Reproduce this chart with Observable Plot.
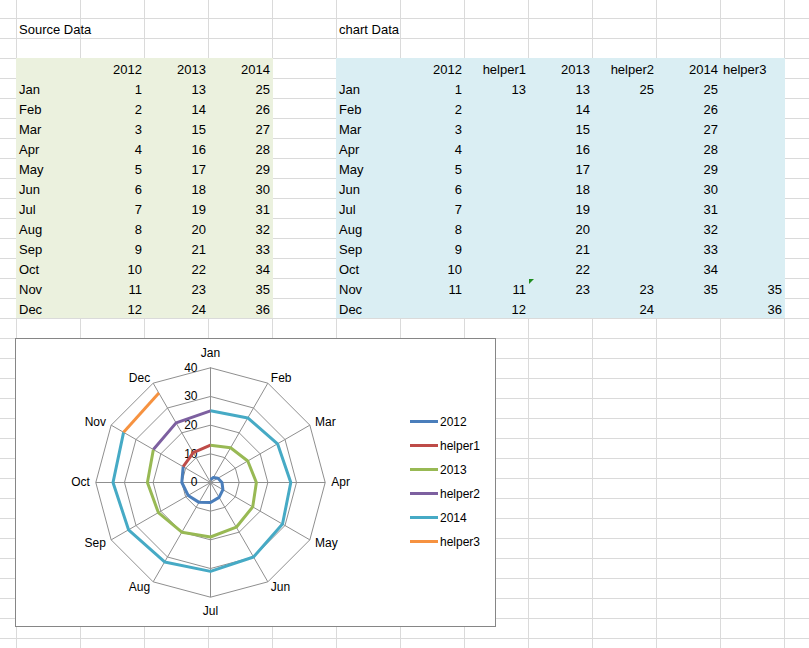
<!DOCTYPE html>
<html>
<head>
<meta charset="utf-8">
<script src="https://cdn.jsdelivr.net/npm/d3@7"></script>
<script src="https://cdn.jsdelivr.net/npm/@observablehq/plot@0.6"></script>
<style>
  html, body { margin: 0; padding: 0; background: #fff; }
  #sheet { position: relative; width: 809px; height: 648px; overflow: hidden;
    font-family: "Liberation Sans", Arial, sans-serif; font-size: 13px; color: #000; }
  .gh { position: absolute; left: 0; width: 809px; height: 1px; background: #dadada; }
  .gv { position: absolute; top: 0; height: 648px; width: 1px; background: #dadada; }
  .fill { position: absolute; }
  .cell { position: absolute; height: 20px; line-height: 20px; width: 64px;
    white-space: nowrap; box-sizing: border-box; }
  .l { text-align: left; padding-left: 3px; }
  .r { text-align: right; padding-right: 2px; }
  .tri { position: absolute; width: 0; height: 0; border-top: 5px solid #1e8c1e; border-right: 5px solid transparent; }
  #chart { position: absolute; left: 15px; top: 338px; width: 481px; height: 289px;
    box-sizing: border-box; border: 1px solid #868686; background: #fff; }
  #chart svg { position: absolute; left: 0; top: 0; }
  .lg-line { position: absolute; width: 28px; height: 3px; }
  .lg-text { position: absolute; height: 20px; line-height: 20px; font-size: 12px; white-space: nowrap; }
</style>
</head>
<body>
<div id="sheet"></div>
<script>
// ---------- data ----------
const months = ["Jan","Feb","Mar","Apr","May","Jun","Jul","Aug","Sep","Oct","Nov","Dec"];
const src2012 = [1,2,3,4,5,6,7,8,9,10,11,12];
const src2013 = [13,14,15,16,17,18,19,20,21,22,23,24];
const src2014 = [25,26,27,28,29,30,31,32,33,34,35,36];

const chart2012 = [1,2,3,4,5,6,7,8,9,10,11,null];
const helper1   = [13,null,null,null,null,null,null,null,null,null,11,12];
const chart2013 = [13,14,15,16,17,18,19,20,21,22,23,null];
const helper2   = [25,null,null,null,null,null,null,null,null,null,23,24];
const chart2014 = [25,26,27,28,29,30,31,32,33,34,35,null];
const helper3   = [null,null,null,null,null,null,null,null,null,null,35,36];

const sourceHeaders = ["2012","2013","2014"];
const chartHeaders = ["2012","helper1","2013","helper2","2014","helper3"];
const seriesNames = ["2012","helper1","2013","helper2","2014","helper3"];
const seriesValues = [chart2012, helper1, chart2013, helper2, chart2014, helper3];
const seriesColors = ["#4A7EBB","#BE4B48","#98B954","#7D60A0","#46AAC5","#F69240"];
const radialTicks = [0,10,20,30,40];

// ---------- spreadsheet ----------
const sheet = document.getElementById("sheet");
const colLeft = c => 16 + 64 * c;     // c=0 -> column B
const rowTop = r => 18 + 20 * r;      // r=0 -> title row
function el(cls, style, text) {
  const d = document.createElement("div");
  d.className = cls;
  Object.assign(d.style, style);
  if (text != null) d.textContent = text;
  sheet.appendChild(d);
  return d;
}
for (let k = 0; k < 32; k++) el("gh", {top: (18 + 20 * k) + "px"});
for (let k = 0; k < 13; k++) el("gv", {left: (16 + 64 * k) + "px"});
el("fill", {left: "16px", top: "58px", width: "257px", height: "260px", background: "#EBF1DE"});
el("fill", {left: "336px", top: "58px", width: "449px", height: "260px", background: "#DAEEF3"});

function cell(c, r, text, align) {
  if (text == null) return;
  el("cell " + align, {left: colLeft(c) + "px", top: (rowTop(r) + 2) + "px"}, String(text));
}
cell(0, 0, "Source Data", "l");
cell(5, 0, "chart Data", "l");
sourceHeaders.forEach((h, j) => cell(1 + j, 2, h, "r"));
chartHeaders.forEach((h, j) => cell(6 + j, 2, h, h === "helper3" ? "l" : "r"));
const srcCols = [src2012, src2013, src2014];
months.forEach((m, i) => {
  cell(0, 3 + i, m, "l");
  srcCols.forEach((col, j) => cell(1 + j, 3 + i, col[i], "r"));
  cell(5, 3 + i, m, "l");
  seriesValues.forEach((col, j) => cell(6 + j, 3 + i, col[i], "r"));
});
el("tri", {left: "529px", top: "279px"});

// ---------- radar chart ----------
const W = 479, H = 287, cx = 194, cy = 143;
const k = 114.7 / 40;                       // px per unit
const ang = i => i * Math.PI / 6;
const px = (i, r) => r * Math.sin(ang(i));
const py = (i, r) => r * Math.cos(ang(i));

const monthObjs = months.map((m, i) => ({m, i}));
const ringPts = radialTicks.filter(t => t > 0).flatMap(t =>
  [...monthObjs, {m: months[0], i: 12}].map(o => ({t, i: o.i})));
const seriesPts = seriesNames.flatMap((s, j) =>
  [...monthObjs, {m: months[0], i: 12}].map(o => ({s, i: o.i, v: seriesValues[j][o.i % 12]})));

const topBottom = monthObjs.filter(o => o.i === 0 || o.i === 6);
const rightSide = monthObjs.filter(o => o.i >= 1 && o.i <= 5);
const leftSide = monthObjs.filter(o => o.i >= 7);
const Rt = 40 + 14.3 / k, Rs = 40 + 6 / k;

const plot = Plot.plot({
  width: W, height: H, margin: 0,
  x: {domain: [-cx / k, (W - cx) / k], axis: null},
  y: {domain: [-(H - cy) / k, cy / k], axis: null},
  color: {domain: seriesNames, range: seriesColors},
  style: {fontFamily: "'Liberation Sans', Arial, sans-serif", fontSize: "12px", background: "transparent", color: "#000"},
  marks: [
    Plot.line(ringPts, {x: d => px(d.i, d.t), y: d => py(d.i, d.t), z: "t", stroke: "#8f8f8f", strokeWidth: 1}),
    Plot.link(monthObjs, {x1: 0, y1: 0, x2: d => px(d.i, 40), y2: d => py(d.i, 40), stroke: "#8f8f8f", strokeWidth: 1}),
    Plot.text(radialTicks, {x: 0, y: d => d, text: d => String(d), textAnchor: "end", dx: -13, fill: "#000"}),
    Plot.line(seriesPts, {
      x: d => d.v == null ? NaN : px(d.i, d.v),
      y: d => d.v == null ? NaN : py(d.i, d.v),
      z: "s", stroke: "s", strokeWidth: 3, strokeLinejoin: "round", strokeLinecap: "butt"
    }),
    Plot.text(topBottom, {x: d => px(d.i, Rt), y: d => py(d.i, Rt), text: "m", textAnchor: "middle", fill: "#000"}),
    Plot.text(rightSide, {x: d => px(d.i, Rs), y: d => py(d.i, Rs), text: "m", textAnchor: "start", fill: "#000"}),
    Plot.text(leftSide, {x: d => px(d.i, Rs), y: d => py(d.i, Rs), text: "m", textAnchor: "end", fill: "#000"})
  ]
});

const chart = document.createElement("div");
chart.id = "chart";
sheet.appendChild(chart);
chart.appendChild(plot);
seriesNames.forEach((s, j) => {
  const ln = document.createElement("div");
  ln.className = "lg-line";
  ln.style.left = "394px";
  ln.style.top = (81 + 24 * j) + "px";
  ln.style.background = seriesColors[j];
  chart.appendChild(ln);
  const tx = document.createElement("div");
  tx.className = "lg-text";
  tx.style.left = "424px";
  tx.style.top = (73 + 24 * j) + "px";
  tx.textContent = s;
  chart.appendChild(tx);
});
</script>
</body>
</html>
